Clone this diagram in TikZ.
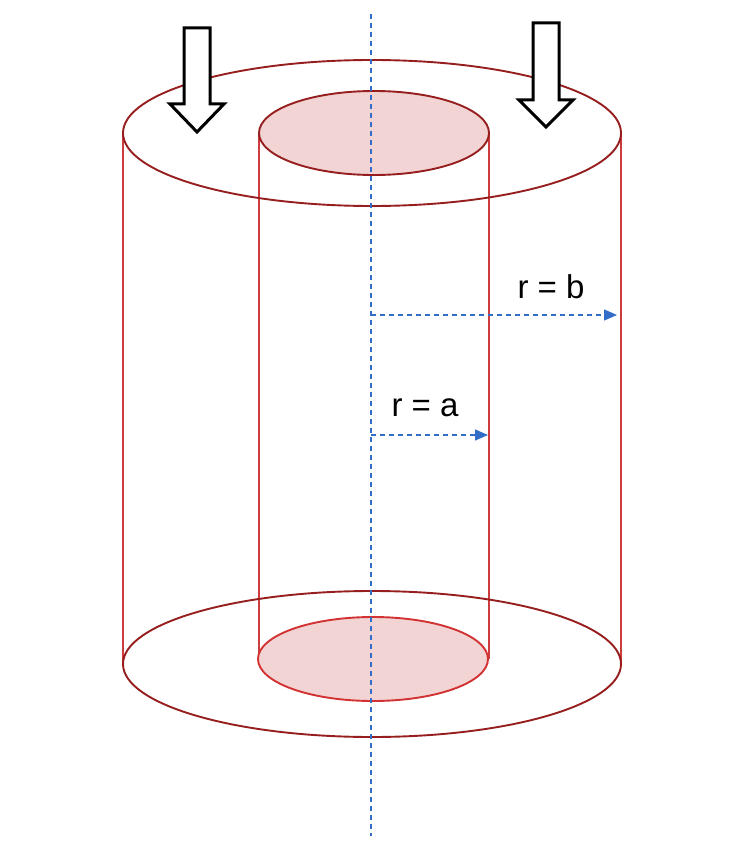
\documentclass[tikz,border=0pt]{standalone}
\usepackage{fontspec}
\setmainfont{Liberation Sans}
\usetikzlibrary{arrows.meta}
\definecolor{dkred}{RGB}{150,30,30}
\definecolor{sidered}{RGB}{205,60,60}
\definecolor{inred}{RGB}{210,50,50}
\definecolor{axblue}{RGB}{50,110,200}
\definecolor{pinkfill}{RGB}{242,212,212}
\begin{document}
\begin{tikzpicture}[x=1pt,y=-1pt,
  darkred/.style={draw=dkred,line width=1.9pt},
  sideline/.style={draw=sidered,line width=1.5pt},
  axis/.style={draw=axblue,dash pattern=on 5pt off 4pt,line width=1.4pt},
  radarrow/.style={axis,-{Triangle[length=13pt,width=11pt]}},
  lab/.style={font=\fontsize{33}{38}\selectfont,inner sep=0pt},
  hollow/.style={draw=black,line width=3pt,fill=white,line join=miter}]
\useasboundingbox (0,0) rectangle (730,864);
% side lines
\draw[sideline] (123,133) coordinate (o1) -- (123,664) coordinate (o2);
\draw[sideline] (621,133) coordinate (o3) -- (621,664) coordinate (o4);
\draw[sideline] (259,133) coordinate (i1) -- (259,659) coordinate (i2);
\draw[sideline] (489,133) coordinate (i3) -- (489,659) coordinate (i4);
% ellipses
\draw[darkred] (372,133) coordinate (topc) ellipse [x radius=249,y radius=73];
\draw[darkred,fill=pinkfill] (374,133) ellipse [x radius=115,y radius=42];
\draw[darkred] (372,664) coordinate (botc) ellipse [x radius=249,y radius=73];
\draw[draw=inred,line width=1.9pt,fill=pinkfill] (373,659) ellipse [x radius=115,y radius=42];
% axis
\coordinate (atop) at (371,14);
\coordinate (abot) at (371,836);
\draw[axis] (atop) -- (abot);
% radius arrows
\coordinate (b0) at (371,315); \coordinate (b1) at (617,315);
\coordinate (a0) at (371,435); \coordinate (a1) at (488,435);
\draw[radarrow] (b0) -- (b1);
\draw[radarrow] (a0) -- (a1);
\node[lab] (lb) at (551,287) {r = b};
\node[lab] (la) at (425,408) {r = a};
% hollow arrows
\draw[hollow] (184,28) -- (210,28) -- (210,104) -- (224,104) -- (197,132) -- (170,104) -- (184,104) -- cycle;
\draw[hollow] (533,23) -- (559,23) -- (559,100) -- (573,100) -- (546,127) -- (519,100) -- (533,100) -- cycle;
\end{tikzpicture}
\end{document}
